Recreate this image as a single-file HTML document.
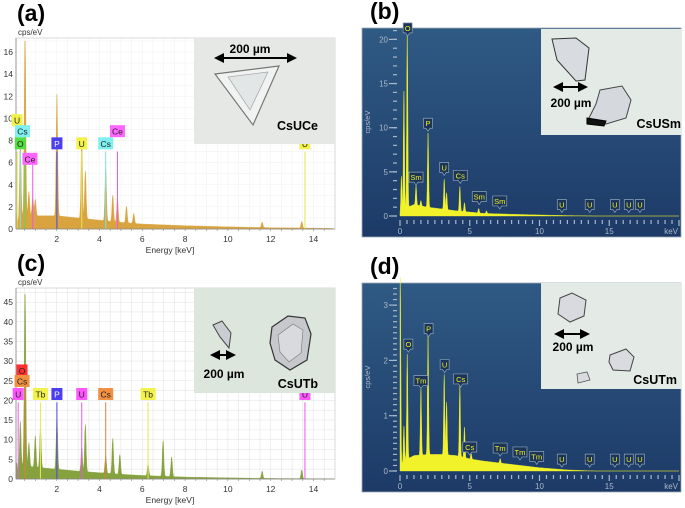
<!DOCTYPE html>
<html><head><meta charset="utf-8"><style>
html,body{margin:0;padding:0;background:#fff;}
svg{display:block;font-family:"Liberation Sans",sans-serif;}
</style></head><body>
<svg id="fig" width="685" height="508" viewBox="0 0 685 508" xmlns="http://www.w3.org/2000/svg">
<defs>
<linearGradient id="bluebg" x1="0" y1="0" x2="0" y2="1">
<stop offset="0" stop-color="#2f5a84"/><stop offset="1" stop-color="#1d3a67"/>
</linearGradient>
<marker id="ah" viewBox="0 0 10 10" refX="8" refY="5" markerWidth="5" markerHeight="5" orient="auto-start-reverse"><path d="M0,0 L10,5 L0,10 z" fill="#000"/></marker>
</defs>
</svg>
<script>
// ===== Data =====
// Panel a (CsUCe)
const aPeakE=[0.12,0.3,0.52,0.7,0.88,1.0,2.01,3.17,3.34,4.29,4.62,4.84,5.26,5.6,11.6,13.45];
const aPeakH=[1.0,7.0,16.7,2.2,1.6,1.5,11.0,7.0,4.3,4.8,2.4,2.2,1.5,0.9,0.5,0.6];
const aBgE=[0.1,0.4,1.0,2.0,3.0,4.0,5.0,6.0,8.0,10.0,12.0,14.0,15.0];
const aBgV=[0.3,1.2,1.2,1.2,1.0,0.8,0.6,0.45,0.3,0.2,0.12,0.08,0.05];
const aLineE=[0.15,0.3,0.52,0.88,2.01,3.17,4.29,4.84,13.6];
const aLineH=[7.0,7.0,6.8,5.8,7.0,7.0,7.0,7.0,7.0];
const aLineC=['#e8e84a','#6fe6e6','#5ad65a','#ee55ee','#4444ee','#e8e84a','#6fe6e6','#ee55ee','#e8e84a'];
const aLabT=['U','Cs','O','Ce','P','U','Cs','Ce','U'];
const aLabE=[0.15,0.4,0.3,0.75,2.01,3.17,4.29,4.84,13.6];
const aLabV=[9.8,8.8,7.7,6.3,7.7,7.7,7.7,8.8,7.7];
const aLabC=['#f2f24a','#7ef0f0','#55dd44','#ff66ff','#4b3ef0','#f2f24a','#7ef0f0','#ff66ff','#f2f24a'];
const aTicksY=[0,2,4,6,8,10,12,14,16];
const aTicksX=[2,4,6,8,10,12,14];
// Panel c (CsUTb)
const cPeakE=[0.12,0.3,0.52,0.7,1.0,1.24,2.01,3.17,3.34,4.29,4.62,4.95,6.27,6.97,7.37,11.6,13.45];
const cPeakH=[3.0,12,46,6,8,10,13,6,12,4.5,9,5,3,9,5,1.8,2.2];
const cBgE=[0.1,0.4,1.0,2.0,3.0,4.0,5.0,6.0,8.0,10.0,12.0,14.0,15.0];
const cBgV=[1.0,3.5,3.0,2.5,2.0,1.6,1.2,0.9,0.5,0.3,0.15,0.08,0.05];
const cLineE=[0.2,0.52,1.24,2.01,3.17,4.29,6.27,13.6];
const cLineH=[19.5,24,19.5,19.5,19.5,19.5,19.5,19.5];
const cLineC=['#ee55ee','#e08030','#e8e84a','#4444ee','#ee55ee','#e08030','#e8e84a','#ee55ee'];
const cLabT=['O','Cs','U','Tb','P','U','Cs','Tb','U'];
const cLabE=[0.38,0.38,0.2,1.24,2.01,3.17,4.29,6.27,13.6];
const cLabV=[27.5,24.8,21.5,21.5,21.5,21.5,21.5,21.5,21.5];
const cLabC=['#ff3030','#f09040','#ff55ff','#f2f24a','#4b3ef0','#ff55ff','#f09040','#f2f24a','#ff55ff'];
const cTicksY=[0,5,10,15,20,25,30,35,40,45];
const cTicksX=[2,4,6,8,10,12,14];
// Panel b (CsUSm)
const bPeakE=[0.1,0.28,0.52,1.15,1.5,2.01,3.17,3.34,4.29,4.62,5.64,6.2];
const bPeakH=[4.2,13.5,19.8,2.2,0.6,8.4,3.4,1.9,2.8,1.0,0.5,0.3];
const bBgE=[0.05,0.4,1.0,2.0,3.0,4.0,5.0,6.0,8.0,10.0,12.0,14.0,20.0];
const bBgV=[0.2,0.9,1.3,1.0,0.8,0.6,0.45,0.3,0.2,0.12,0.05,0.0,0.0];
const bLabT=['O','P','Sm','U','Cs','Sm','Sm','U','U','U','U','U'];
const bLabE=[0.55,2.01,1.15,3.17,4.32,5.68,7.15,11.6,13.6,15.4,16.4,17.2];
const bLabV=[20.4,9.6,3.5,4.6,3.7,1.3,0.8,0.4,0.4,0.4,0.4,0.4];
const bTicksY=[0,5,10,15,20];
const bTicksX=[0,5,10,15];
// Panel d (CsUTm)
const dPeakE=[0.02,0.28,0.52,1.5,2.01,3.17,3.34,4.29,4.62,5.1,7.18];
const dPeakH=[3.4,0.65,1.9,1.2,2.15,1.45,0.95,1.3,0.55,0.1,0.08];
const dBgE=[0.05,0.4,1.0,2.0,3.0,4.0,5.0,6.0,8.0,10.0,12.0,14.0,20.0];
const dBgV=[0.1,0.2,0.28,0.3,0.3,0.28,0.22,0.18,0.12,0.06,0.02,0.0,0.0];
const dLabT=['O','P','Tm','U','Cs','Cs','Tm','Tm','Tm','U','U','U','U','U'];
const dLabE=[0.6,2.05,1.5,3.2,4.35,5.0,7.18,8.6,9.8,11.6,13.6,15.4,16.4,17.2];
const dLabV=[2.15,2.43,1.49,1.78,1.52,0.29,0.27,0.2,0.12,0.07,0.07,0.07,0.07,0.07];
const dTicksY=[0,1,2,3];
const dTicksX=[0,5,10,15];

// ===== Helpers =====
const svg=document.getElementById('fig');
const NS='http://www.w3.org/2000/svg';
function mk(tag,attrs,parent,text){const e=document.createElementNS(NS,tag);for(const k in attrs)e.setAttribute(k,attrs[k]);if(text!==undefined)e.textContent=text;(parent||svg).appendChild(e);return e;}
function interp(xs,ys,x){if(x<=xs[0])return ys[0];for(let i=1;i<xs.length;i++){if(x<=xs[i]){const t=(x-xs[i-1])/(xs[i]-xs[i-1]);return ys[i-1]+t*(ys[i]-ys[i-1]);}}return ys[ys.length-1];}
function spec(e,pe,ph,be,bv,sig){let v=interp(be,bv,e);for(let i=0;i<pe.length;i++){const d=(e-pe[i])/sig;v+=ph[i]*Math.exp(-0.5*d*d);}return v;}
function specPath(x,y,pe,ph,be,bv,e0,e1,sig,vmax){let d='M'+x(e0).toFixed(1)+','+y(0).toFixed(1);for(let e=e0;e<=e1;e+=0.01){let v=Math.min(spec(e,pe,ph,be,bv,sig),vmax);d+=' L'+x(e).toFixed(1)+','+y(v).toFixed(1);}d+=' L'+x(e1).toFixed(1)+','+y(0).toFixed(1)+' Z';return d;}

// ===== Light panels (a,c) =====
function lightPanel(id,letter,top,bot,yScale,ticksY,ticksX,pe,ph,be,bv,fill,lineE,lineH,lineC,labT,labE,labV,labC,vmax,gridStep,gridCol){
  const g=mk('g',{});
  
  
  const x=e=>13.9+21.4*e;
  const y=v=>bot-yScale*v;
  let t=mk('text',{x:17,y:top-17,'font-size':23,'font-weight':'bold',fill:'#000'},g,'('+letter+')');
  
  
  t=mk('text',{x:18,y:top-3,'font-size':8,fill:'#333'},g,'cps/eV');
  
  
  const gg=mk('g',{stroke:gridCol,'stroke-width':0.6},g);
  
  
  for(let e=0.5;e<15;e+=0.5){mk('line',{x1:x(e),x2:x(e),y1:top,y2:bot},gg);}
  for(let v=gridStep;y(v)>top;v+=gridStep){mk('line',{x1:16,x2:335,y1:y(v),y2:y(v)},gg);}
  mk('rect',{x:16,y:top,width:319,height:bot-top,fill:'none',stroke:'#cfcfcf','stroke-width':0.8},g);
  const p=mk('path',{d:specPath(x,y,pe,ph,be,bv,0.1,14.9,0.035,vmax),fill:fill,stroke:fill,'stroke-width':0.4},g);
  
  
  for(let i=0;i<lineE.length;i++){
    const l=mk('line',{x1:x(lineE[i]),x2:x(lineE[i]),y1:y(0),y2:y(lineH[i]),stroke:lineC[i],'stroke-width':1},g);
    
    
  }
  mk('line',{x1:16,x2:16,y1:top,y2:bot,stroke:'#888','stroke-width':0.8},g);
  mk('line',{x1:16,x2:335,y1:bot,y2:bot,stroke:'#888','stroke-width':0.8},g);
  for(const v of ticksY){
    const tt=mk('text',{x:13,y:y(v)+3,'font-size':8.5,'text-anchor':'end',fill:'#333'},g,String(v));
    
    
  }
  for(let e=0.5;e<15;e+=0.5){mk('line',{x1:x(e),x2:x(e),y1:bot,y2:bot+2,stroke:'#888','stroke-width':0.6},g);}
  for(const e of ticksX){
    const tt=mk('text',{x:x(e),y:bot+13,'font-size':8.5,'text-anchor':'middle',fill:'#333'},g,String(e));
    
    
  }
  t=mk('text',{x:170,y:bot+24,'font-size':8.5,'text-anchor':'middle',fill:'#333'},g,'Energy [keV]');
  
  
  for(let i=0;i<labT.length;i++){
    const w=labT[i].length>1?15:11;
    const lg=mk('g',{},g);
    
    
    mk('rect',{x:x(labE[i])-w/2,y:y(labV[i])-6.5,width:w,height:12,fill:labC[i]},lg);
    mk('text',{x:x(labE[i]),y:y(labV[i])+3,'font-size':8.5,'text-anchor':'middle',fill:labC[i]=='#4b3ef0'?'#fff':'#222'},lg,labT[i]);
  }
}

// ===== Dark panels (b,d) =====
function darkPanel(id,letter,top,bot,zeroY,yScale,ticksY,minorStep,pe,ph,be,bv,labT,labE,labV,vmax){
  const g=mk('g',{});
  
  
  const x=e=>400+13.95*e;
  const y=v=>zeroY-yScale*v;
  let t=mk('text',{x:370,y:top-9,'font-size':23,'font-weight':'bold',fill:'#000'},g,'('+letter+')');
  
  
  const bg=mk('rect',{x:362,y:top,width:319,height:bot-top,fill:'url(#bluebg)',stroke:'#9aa9b8','stroke-width':0.8},g);
  
  
  const p=mk('path',{d:specPath(x,y,pe,ph,be,bv,0.0,20.0,0.04,vmax),fill:'#f2f22a',stroke:'#f2f22a','stroke-width':0.4},g);
  
  
  const tc='#a9b8c8';
  for(let v=0;y(v)>top+2;v+=minorStep){mk('line',{x1:393,x2:397,y1:y(v),y2:y(v),stroke:tc,'stroke-width':1.2},g);}
  for(const v of ticksY){
    mk('line',{x1:389,x2:397,y1:y(v),y2:y(v),stroke:tc,'stroke-width':1.2},g);
    const tt=mk('text',{x:388,y:y(v)+3,'font-size':8,'text-anchor':'end',fill:tc},g,String(v));
    
    
  }
  t=mk('text',{x:370,y:(top+zeroY)/2,'font-size':7.5,'text-anchor':'middle',fill:tc,transform:'rotate(-90 370 '+((top+zeroY)/2)+')'},g,'cps/eV');
  
  
  for(let e=0;x(e)<680;e+=0.5){const maj=Math.abs(e%5)<0.01;mk('line',{x1:x(e),x2:x(e),y1:zeroY+4,y2:zeroY+(maj?10:8),stroke:tc,'stroke-width':1.2},g);}
  for(const e of dTicksX){
    const tt=mk('text',{x:x(e),y:zeroY+18,'font-size':8,'text-anchor':'middle',fill:tc},g,String(e));
    
    
  }
  t=mk('text',{x:678,y:zeroY+18,'font-size':8,'text-anchor':'end',fill:tc},g,'keV');
  
  
  for(let i=0;i<labT.length;i++){
    const w=labT[i].length>1?14:9;
    const cx=x(labE[i]), ty=y(labV[i]);
    const lg=mk('g',{},g);
    
    
    mk('path',{d:`M${cx-w/2},${ty-13} h${w} v10 h-${w/2-2} l-2,3 l-2,-3 h-${w/2-2} z`,fill:'#1c3556',stroke:'#8ea4bb','stroke-width':0.7},lg);
    mk('text',{x:cx,y:ty-5,'font-size':7.5,'text-anchor':'middle',fill:'#f2f22a'},lg,labT[i]);
  }
}

// ===== Insets =====
function inset(id,x0,y0,w,h,fill,name,nameX,nameY,arrX1,arrX2,arrY,scaleX,scaleY,shapes){
  const g=mk('g',{});
  
  
  mk('rect',{x:x0,y:y0,width:w,height:h,fill:fill},g);
  for(const s of shapes){mk('polygon',{points:s[0],fill:s[1],stroke:s[2],'stroke-width':s[3]},g);}
  const a=mk('line',{x1:arrX1,x2:arrX2,y1:arrY,y2:arrY,stroke:'#000','stroke-width':2,'marker-start':'url(#ah)','marker-end':'url(#ah)'},g);
  
  
  let t=mk('text',{x:scaleX,y:scaleY,'font-size':12,'font-weight':'bold','text-anchor':'middle',fill:'#000'},g,'200 µm');
  
  
  t=mk('text',{x:nameX,y:nameY,'font-size':12.5,'font-weight':'bold','text-anchor':'end',fill:'#000'},g,name);
  
  
}

lightPanel('a','a',38,229,11.06,aTicksY,aTicksX,aPeakE,aPeakH,aBgE,aBgV,'#d9a43f',aLineE,aLineH,aLineC,aLabT,aLabE,aLabV,aLabC,17,1,'#f2f2f2');
inset('a',194,38,141,106,'#e5e8e5','CsUCe',318,130,216,295,58,250,53,[
 ['215,74 279,66 253,125','#f1f3f3','#777',1.2],['228,77 268,72 250,110','#e2e6e6','#aaa',0.8]]);
lightPanel('c','c',288,479,3.93,cTicksY,cTicksX,cPeakE,cPeakH,cBgE,cBgV,'#86a23f',cLineE,cLineH,cLineC,cLabT,cLabE,cLabV,cLabC,47,2.5,'#e4e4e4');
inset('c',194,288,141,105,'#dde6dc','CsUTb',318,388,212,234,355,224,378,[
 ['213,325 222,321 231,333 229,348 220,337','#c9ccd0','#444',1],
 ['272,327 288,316 305,318 311,334 307,360 290,370 275,360 270,343','#c6c8cc','#333',1.2],
 ['278,335 293,324 303,330 301,353 289,362 280,352','#d8dadd','#777',0.6]]);
darkPanel('b','b',28,237,216,8.83,bTicksY,1,bPeakE,bPeakH,bBgE,bBgV,bLabT,bLabE,bLabV,21.5);
inset('b',541,29,141,106,'#e4ebe6','CsUSm',681,128,555,586,87,571,107,[
 ['552,39 576,38 589,48 585,80 576,81 557,60','#d8dbe0','#333',1],
 ['600,90 622,86 631,100 626,118 606,124 587,122 596,104','#d5d8dc','#444',1],
 ['587,118 606,121 604,126 587,124','#111','#000',1]]);
darkPanel('d','d',283,492,471,55.3,dTicksY,0.1,dPeakE,dPeakH,dBgE,dBgV,dLabT,dLabE,dLabV,3.5);
inset('d',541,283,141,106,'#e4ebe6','CsUTm',677,384,556,588,334,573,351,[
 ['560,298 572,293 586,300 584,316 570,322 558,314','#d8dadf','#444',1],
 ['610,355 626,349 634,357 630,371 613,370 609,362','#d9dbdf','#444',1],
 ['577,374 587,372 590,380 578,383','#d9dbdf','#555',0.8]]);
</script>
</body></html>
